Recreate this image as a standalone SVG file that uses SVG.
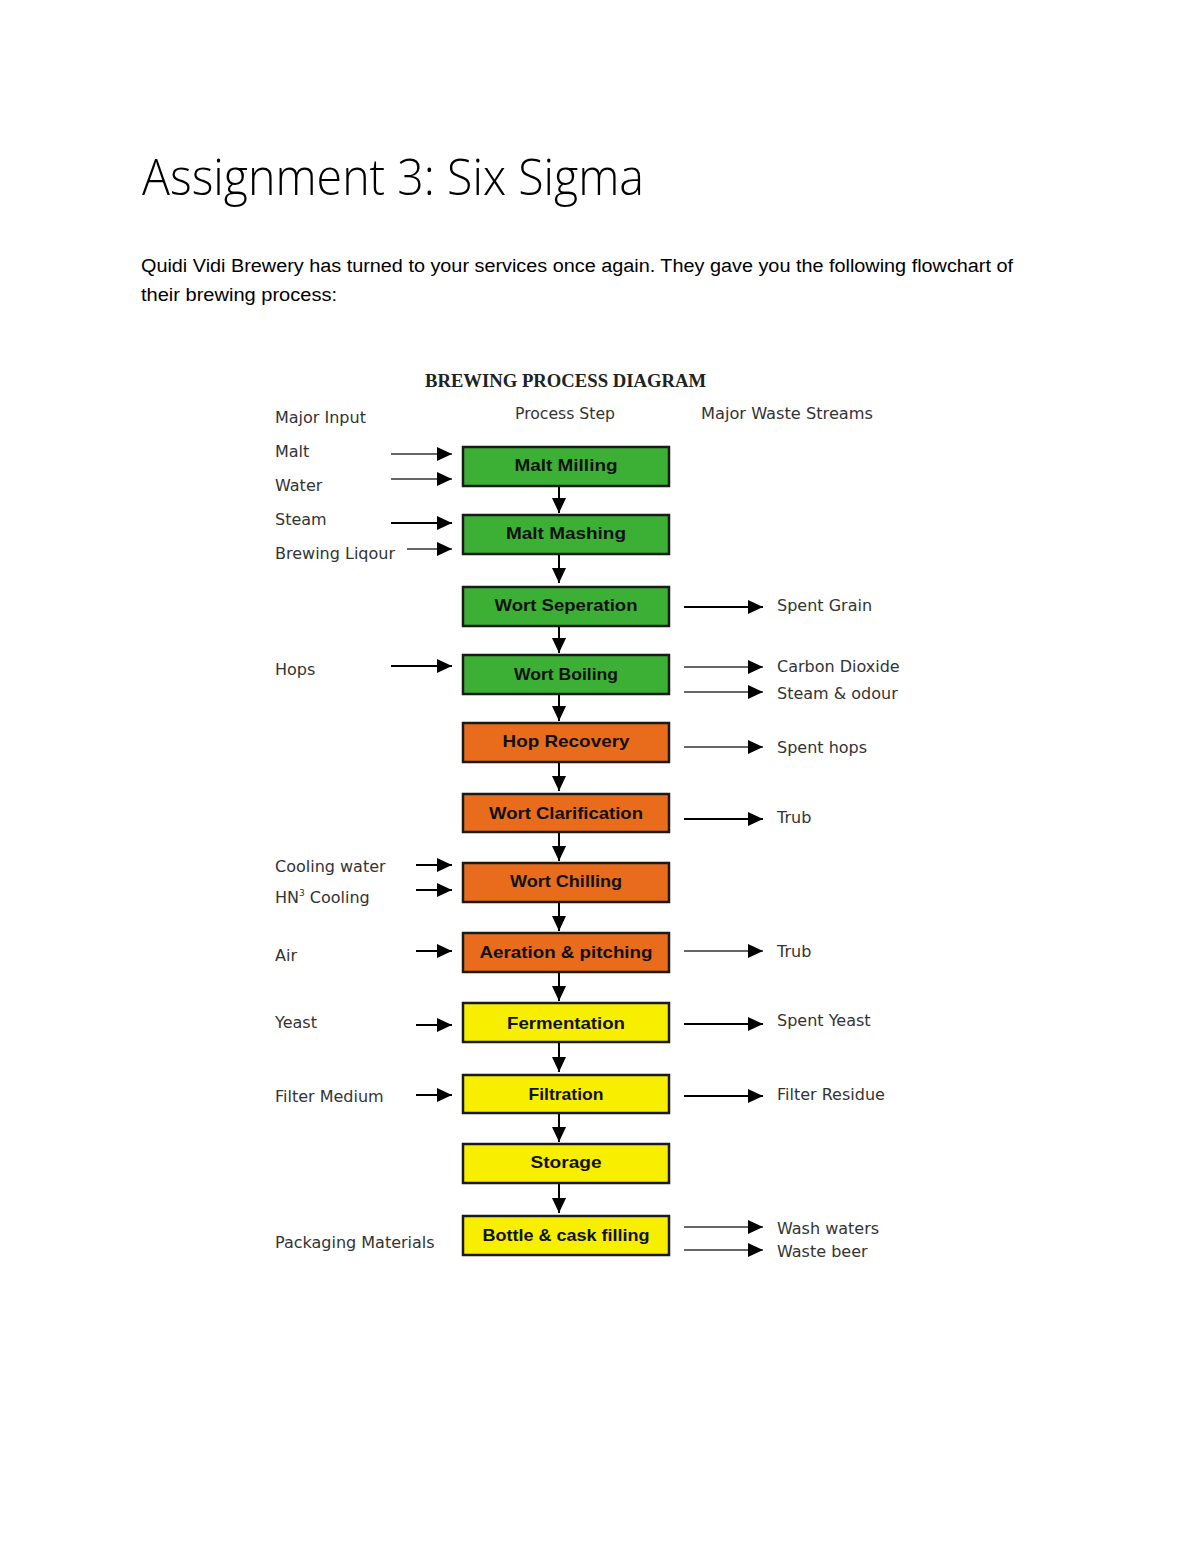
<svg xmlns="http://www.w3.org/2000/svg" width="1200" height="1553" viewBox="0 0 1200 1553">
<style>
.title{font-family:"Open Sans","Liberation Sans",Arial,sans-serif;font-size:50px;fill:#000;font-weight:300}
.body{font-family:"Liberation Sans",Arial,sans-serif;font-size:18px;fill:#000}
.head{font-family:"Liberation Serif","Times New Roman",serif;font-size:19px;font-weight:bold;fill:#222}
.lbl{font-family:"DejaVu Sans","Liberation Sans",sans-serif;font-size:16px;fill:#333}
.box{stroke:#1a1a1a;stroke-width:2.5}
.g{fill:#3cb034}.o{fill:#e86c1c}.y{fill:#f8ef00}
.bt{font-family:"Liberation Sans",Arial,sans-serif;font-size:17px;font-weight:bold;fill:#111;text-anchor:middle}
.ln{stroke:#000;stroke-width:2;fill:none}
.ln2{stroke:#333;stroke-width:1.5;fill:none}
</style>
<defs>
<marker id="ah2" viewBox="0 0 10 10" refX="10" refY="5" markerWidth="15" markerHeight="14" markerUnits="userSpaceOnUse" orient="auto" preserveAspectRatio="none">
<path d="M0,0 L10,5 L0,10 z" fill="#000"/>
</marker>
</defs>
<rect width="1200" height="1553" fill="#fff"/>
<text class="title" x="142" y="195" textLength="502" lengthAdjust="spacingAndGlyphs">Assignment 3: Six Sigma</text>
<text class="body" x="141" y="272" textLength="872" lengthAdjust="spacingAndGlyphs">Quidi Vidi Brewery has turned to your services once again. They gave you the following flowchart of</text>
<text class="body" x="141" y="301" textLength="196" lengthAdjust="spacingAndGlyphs">their brewing process:</text>

<text class="head" x="425" y="387" textLength="281" lengthAdjust="spacingAndGlyphs">BREWING PROCESS DIAGRAM</text>
<text class="lbl" x="275" y="423">Major Input</text>
<text class="lbl" x="515" y="419" textLength="100" lengthAdjust="spacingAndGlyphs">Process Step</text>
<text class="lbl" x="701" y="419" textLength="172" lengthAdjust="spacingAndGlyphs">Major Waste Streams</text>

<g id="inputs">
<text class="lbl" x="275" y="457">Malt</text>
<text class="lbl" x="275" y="491">Water</text>
<text class="lbl" x="275" y="525">Steam</text>
<text class="lbl" x="275" y="559">Brewing Liqour</text>
<text class="lbl" x="275" y="675">Hops</text>
<text class="lbl" x="275" y="872">Cooling water</text>
<text class="lbl" x="275" y="903">HN<tspan font-size="9" dy="-7">3</tspan><tspan dy="7"> Cooling</tspan></text>
<text class="lbl" x="275" y="961">Air</text>
<text class="lbl" x="275" y="1028">Yeast</text>
<text class="lbl" x="275" y="1102">Filter Medium</text>
<text class="lbl" x="275" y="1248">Packaging Materials</text>
</g>

<g id="wastes">
<text class="lbl" x="777" y="611">Spent Grain</text>
<text class="lbl" x="777" y="672">Carbon Dioxide</text>
<text class="lbl" x="777" y="699">Steam &amp; odour</text>
<text class="lbl" x="777" y="753">Spent hops</text>
<text class="lbl" x="777" y="823">Trub</text>
<text class="lbl" x="777" y="957">Trub</text>
<text class="lbl" x="777" y="1026">Spent Yeast</text>
<text class="lbl" x="777" y="1100">Filter Residue</text>
<text class="lbl" x="777" y="1234">Wash waters</text>
<text class="lbl" x="777" y="1257">Waste beer</text>
</g>

<g id="n1"><rect class="box g" x="463" y="447" width="206" height="39"/><text class="bt" x="566" y="471" textLength="103" lengthAdjust="spacingAndGlyphs">Malt Milling</text></g>
<g id="n2"><rect class="box g" x="463" y="515" width="206" height="39"/><text class="bt" x="566" y="539" textLength="120" lengthAdjust="spacingAndGlyphs">Malt Mashing</text></g>
<g id="n3"><rect class="box g" x="463" y="587" width="206" height="39"/><text class="bt" x="566" y="611" textLength="143" lengthAdjust="spacingAndGlyphs">Wort Seperation</text></g>
<g id="n4"><rect class="box g" x="463" y="655" width="206" height="39"/><text class="bt" x="566" y="680" textLength="104" lengthAdjust="spacingAndGlyphs">Wort Boiling</text></g>
<g id="n5"><rect class="box o" x="463" y="723" width="206" height="39"/><text class="bt" x="566" y="747" textLength="127" lengthAdjust="spacingAndGlyphs">Hop Recovery</text></g>
<g id="n6"><rect class="box o" x="463" y="794" width="206" height="38"/><text class="bt" x="566" y="819" textLength="154" lengthAdjust="spacingAndGlyphs">Wort Clarification</text></g>
<g id="n7"><rect class="box o" x="463" y="863" width="206" height="39"/><text class="bt" x="566" y="887" textLength="112" lengthAdjust="spacingAndGlyphs">Wort Chilling</text></g>
<g id="n8"><rect class="box o" x="463" y="933" width="206" height="39"/><text class="bt" x="566" y="958" textLength="173" lengthAdjust="spacingAndGlyphs">Aeration &amp; pitching</text></g>
<g id="n9"><rect class="box y" x="463" y="1003" width="206" height="39"/><text class="bt" x="566" y="1029" textLength="118" lengthAdjust="spacingAndGlyphs">Fermentation</text></g>
<g id="n10"><rect class="box y" x="463" y="1075" width="206" height="38"/><text class="bt" x="566" y="1100" textLength="75" lengthAdjust="spacingAndGlyphs">Filtration</text></g>
<g id="n11"><rect class="box y" x="463" y="1144" width="206" height="39"/><text class="bt" x="566" y="1168" textLength="71" lengthAdjust="spacingAndGlyphs">Storage</text></g>
<g id="n12"><rect class="box y" x="463" y="1216" width="206" height="39"/><text class="bt" x="566" y="1241" textLength="167" lengthAdjust="spacingAndGlyphs">Bottle &amp; cask filling</text></g>

<g id="connectors">
<line class="ln" x1="559" y1="487" x2="559" y2="513" marker-end="url(#ah2)"/>
<line class="ln" x1="559" y1="555" x2="559" y2="583" marker-end="url(#ah2)"/>
<line class="ln" x1="559" y1="627" x2="559" y2="653" marker-end="url(#ah2)"/>
<line class="ln" x1="559" y1="695" x2="559" y2="721" marker-end="url(#ah2)"/>
<line class="ln" x1="559" y1="763" x2="559" y2="791" marker-end="url(#ah2)"/>
<line class="ln" x1="559" y1="833" x2="559" y2="861" marker-end="url(#ah2)"/>
<line class="ln" x1="559" y1="903" x2="559" y2="931" marker-end="url(#ah2)"/>
<line class="ln" x1="559" y1="973" x2="559" y2="1001" marker-end="url(#ah2)"/>
<line class="ln" x1="559" y1="1043" x2="559" y2="1072" marker-end="url(#ah2)"/>
<line class="ln" x1="559" y1="1114" x2="559" y2="1142" marker-end="url(#ah2)"/>
<line class="ln" x1="559" y1="1184" x2="559" y2="1213" marker-end="url(#ah2)"/>
<line class="ln2" x1="391" y1="454" x2="452" y2="454" marker-end="url(#ah2)"/>
<line class="ln2" x1="391" y1="479" x2="452" y2="479" marker-end="url(#ah2)"/>
<line class="ln" x1="391" y1="523" x2="452" y2="523" marker-end="url(#ah2)"/>
<line class="ln2" x1="407" y1="549" x2="452" y2="549" marker-end="url(#ah2)"/>
<line class="ln" x1="391" y1="666" x2="452" y2="666" marker-end="url(#ah2)"/>
<line class="ln" x1="416" y1="865" x2="452" y2="865" marker-end="url(#ah2)"/>
<line class="ln" x1="416" y1="890" x2="452" y2="890" marker-end="url(#ah2)"/>
<line class="ln" x1="416" y1="951" x2="452" y2="951" marker-end="url(#ah2)"/>
<line class="ln" x1="416" y1="1025" x2="452" y2="1025" marker-end="url(#ah2)"/>
<line class="ln" x1="416" y1="1095" x2="452" y2="1095" marker-end="url(#ah2)"/>
<line class="ln" x1="684" y1="607" x2="763" y2="607" marker-end="url(#ah2)"/>
<line class="ln2" x1="684" y1="667" x2="763" y2="667" marker-end="url(#ah2)"/>
<line class="ln2" x1="684" y1="692" x2="763" y2="692" marker-end="url(#ah2)"/>
<line class="ln2" x1="684" y1="747" x2="763" y2="747" marker-end="url(#ah2)"/>
<line class="ln" x1="684" y1="819" x2="763" y2="819" marker-end="url(#ah2)"/>
<line class="ln2" x1="684" y1="951" x2="763" y2="951" marker-end="url(#ah2)"/>
<line class="ln" x1="684" y1="1024" x2="763" y2="1024" marker-end="url(#ah2)"/>
<line class="ln" x1="684" y1="1096" x2="763" y2="1096" marker-end="url(#ah2)"/>
<line class="ln2" x1="684" y1="1227" x2="763" y2="1227" marker-end="url(#ah2)"/>
<line class="ln2" x1="684" y1="1250" x2="763" y2="1250" marker-end="url(#ah2)"/>
</g>
</svg>
